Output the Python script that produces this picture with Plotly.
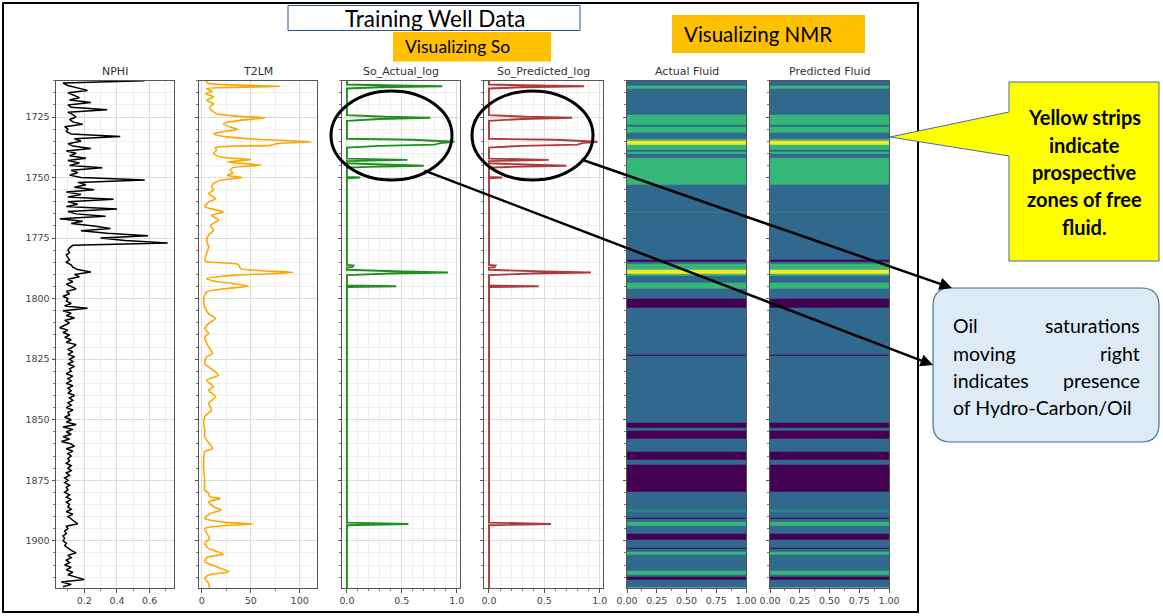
import plotly.graph_objects as go

W, H = 1163, 616

# ---------------- data ----------------
track_titles = ["NPHI", "T2LM", "So_Actual_log", "So_Predicted_log", "Actual Fluid", "Predicted Fluid"]

nphi_depth = list(range(1710, 1920))
nphi = [
    0.57, 0.07, 0.10, 0.16, 0.22, 0.10, 0.14, 0.17, 0.11, 0.24,
    0.10, 0.12, 0.34, 0.10, 0.13, 0.15, 0.11, 0.13, 0.19, 0.08,
    0.10, 0.09, 0.12, 0.42, 0.14, 0.18, 0.10, 0.13, 0.24, 0.09,
    0.15, 0.11, 0.21, 0.10, 0.17, 0.11, 0.31, 0.12, 0.16, 0.11,
    0.18, 0.57, 0.16, 0.21, 0.14, 0.26, 0.09, 0.18, 0.10, 0.38,
    0.10, 0.16, 0.09, 0.40, 0.10, 0.15, 0.33, 0.05, 0.19, 0.12,
    0.26, 0.36, 0.18, 0.34, 0.59, 0.30, 0.45, 0.71, 0.13, 0.11,
    0.10, 0.11, 0.09, 0.10, 0.11, 0.09, 0.12, 0.13, 0.16, 0.24,
    0.14, 0.17, 0.10, 0.13, 0.09, 0.12, 0.15, 0.09, 0.11, 0.07,
    0.10, 0.09, 0.12, 0.08, 0.22, 0.07, 0.12, 0.09, 0.14, 0.08,
    0.11, 0.08, 0.05, 0.10, 0.07, 0.11, 0.08, 0.12, 0.09, 0.15,
    0.13, 0.10, 0.13, 0.10, 0.14, 0.11, 0.13, 0.10, 0.14, 0.11,
    0.12, 0.09, 0.13, 0.10, 0.12, 0.09, 0.13, 0.10, 0.12, 0.10,
    0.14, 0.11, 0.13, 0.10, 0.12, 0.09, 0.13, 0.10, 0.11, 0.08,
    0.12, 0.09, 0.15, 0.07, 0.13, 0.09, 0.12, 0.07, 0.11, 0.06,
    0.12, 0.14, 0.09, 0.13, 0.10, 0.12, 0.10, 0.11, 0.09, 0.12,
    0.10, 0.12, 0.09, 0.11, 0.08, 0.10, 0.08, 0.11, 0.09, 0.10,
    0.08, 0.11, 0.09, 0.12, 0.09, 0.11, 0.10, 0.12, 0.09, 0.13,
    0.10, 0.12, 0.14, 0.16, 0.09, 0.10, 0.08, 0.09, 0.07, 0.08,
    0.07, 0.09, 0.08, 0.10, 0.12, 0.15, 0.10, 0.12, 0.09, 0.11,
    0.08, 0.12, 0.09, 0.13, 0.10, 0.15, 0.20, 0.06, 0.12, 0.07,
]

t2lm_depth = [
    1710.1, 1711.2, 1712.3, 1713.3, 1714.3, 1715.4, 1716.7, 1718.1, 1719.5, 1720.9,
    1722.2, 1723.6, 1724.7, 1725.3, 1726.4, 1727.7, 1729.1, 1730.1, 1731.2, 1732.1,
    1733.2, 1734.3, 1735.2, 1736.0, 1736.7, 1737.6, 1738.7, 1740.1, 1741.5, 1742.6,
    1743.6, 1744.9, 1745.9, 1747.0, 1748.1, 1749.1, 1750.0, 1751.1, 1752.5, 1753.9,
    1755.3, 1756.6, 1758.7, 1760.1, 1762.1, 1764.2, 1765.6, 1767.6, 1769.7, 1771.8,
    1773.8, 1775.9, 1778.6, 1781.4, 1784.1, 1784.8, 1785.8, 1787.6, 1789.2, 1790.3,
    1791.7, 1792.7, 1793.8, 1794.9, 1795.8, 1797.2, 1798.6, 1800.7, 1803.4, 1806.2,
    1808.2, 1810.3, 1812.3, 1814.4, 1815.8, 1818.5, 1819.9, 1822.7, 1824.0, 1826.8,
    1828.2, 1831.6, 1833.7, 1836.4, 1837.8, 1840.5, 1843.3, 1846.0, 1848.8, 1851.6,
    1854.3, 1857.1, 1858.4, 1861.9, 1863.2, 1866.7, 1870.8, 1874.9, 1879.1, 1880.4,
    1881.8, 1882.5, 1883.9, 1885.9, 1887.3, 1888.7, 1890.8, 1892.4, 1893.1, 1893.9,
    1894.9, 1896.9, 1899.0, 1901.1, 1903.1, 1905.5, 1906.9, 1908.6, 1911.0, 1912.8,
    1914.1, 1915.5, 1917.6, 1919.4,
]
t2lm = [
    4, 7, 80, 5, 10, 4, 12, 5, 12, 8,
    10, 15, 39, 65, 39, 22, 29, 37, 19, 12,
    26, 60, 112, 77, 70, 14, 15, 12, 19, 50,
    26, 60, 32, 29, 32, 26, 41, 19, 12, 10,
    12, 7, 14, 7, 3, 22, 10, 17, 9, 12,
    7, 5, 7, 5, 3, 5, 37, 40, 93, 35,
    5, 12, 32, 48, 26, 5, 3, 2, 3, 7,
    14, 7, 3, 7, 3, 5, 7, 11, 5, 3,
    7, 17, 5, 12, 7, 14, 7, 10, 3, 2,
    3, 3, 5, 11, 3, 2, 2, 3, 3, 7,
    8, 19, 7, 12, 20, 9, 3, 25, 52, 19,
    3, 5, 8, 3, 7, 22, 5, 3, 17, 28,
    7, 3, 7, 8,
]

so_actual_depth = [
    1710.1, 1711.6, 1712.0, 1712.3, 1712.7, 1713.2,
    1724.2, 1724.9, 1725.3, 1725.8, 1726.6,
    1734.0, 1734.4, 1735.2, 1735.8, 1736.4, 1736.9, 1737.6,
    1742.2, 1742.7, 1743.2,
    1744.1, 1744.7, 1745.1, 1745.6, 1745.9,
    1749.7, 1750.0, 1750.3,
    1786.1, 1786.3, 1787.0, 1787.2,
    1788.1, 1788.8, 1789.2, 1789.6, 1790.3,
    1794.6, 1794.9, 1795.2,
    1892.5, 1893.1, 1893.6,
    1919.5,
]
so_actual = [
    0.0, 0.0, 0.45, 0.87, 0.30, 0.0,
    0.0, 0.35, 0.76, 0.30, 0.0,
    0.0, 0.60, 0.98, 0.85, 0.80, 0.30, 0.0,
    0.0, 0.55, 0.0,
    0.0, 0.40, 0.70, 0.20, 0.0,
    0.0, 0.12, 0.0,
    0.0, 0.06, 0.05, 0.0,
    0.0, 0.50, 0.92, 0.40, 0.0,
    0.0, 0.45, 0.0,
    0.0, 0.56, 0.0,
    0.0,
]
so_pred_depth = list(so_actual_depth)
so_pred = [
    0.0, 0.0, 0.44, 0.86, 0.30, 0.0,
    0.0, 0.34, 0.75, 0.30, 0.0,
    0.0, 0.60, 0.98, 0.84, 0.80, 0.30, 0.0,
    0.0, 0.54, 0.0,
    0.0, 0.40, 0.70, 0.20, 0.0,
    0.0, 0.12, 0.0,
    0.0, 0.06, 0.05, 0.0,
    0.0, 0.50, 0.92, 0.40, 0.0,
    0.0, 0.45, 0.0,
    0.0, 0.56, 0.0,
    0.0,
]

# fluid class bands (viridis scale 0..3): edges and class per band
fluid_edges = [
    1710.0, 1711.9, 1713.3, 1724.0, 1728.2, 1728.8, 1731.4, 1733.9, 1734.8, 1736.4,
    1738.3, 1739.4, 1740.3, 1741.9, 1752.9, 1763.9, 1764.7, 1784.1, 1784.6, 1785.5,
    1787.9, 1789.5, 1790.7, 1793.4, 1796.1, 1800.2, 1803.7, 1823.1, 1823.5, 1851.3,
    1853.2, 1854.6, 1857.7, 1863.2, 1866.7, 1868.5, 1879.8, 1887.3, 1888.0, 1890.3,
    1890.9, 1892.1, 1893.8, 1896.9, 1899.7, 1902.9, 1903.4, 1904.5, 1905.9, 1912.5,
    1913.9, 1914.8, 1916.2, 1919.5,
]
fluid_actual = [
    1, 2, 1, 2, 1, 2, 1, 2, 3, 2,
    1, 2, 1, 2, 1, 1.5, 1, 0, 1, 2,
    3, 2, 1, 2, 1, 0, 1, 0, 1, 0,
    1, 0, 1, 0, 1, 0, 1, 1.5, 1, 0,
    1, 2, 1, 0, 1, 0, 1, 2, 1, 2,
    1, 0, 1,
]
fluid_pred = list(fluid_actual)

# ---------------- layout helpers ----------------
def X(px):
    return px / W


def Y(py):
    return 1 - py / H


panel_px = [(56, 174), (199, 317), (342, 460), (484, 603), (627, 746), (770, 889)]
y_top, y_bot = 80.7, 588
x_ranges = [[0.027, 0.749], [-2.8, 117.7], [-0.045, 1.03], [-0.045, 1.03], [0, 1], [0, 1]]
x_dticks = [0.2, 50, 0.5, 0.5, 0.25, 0.25]
x_minor = [0.1, 25, 0.1, 0.1, 0.125, 0.125]
x_fmt = [".1f", "d", ".1f", ".1f", ".2f", ".2f"]

tick_font = dict(family="DejaVu Sans", size=9.5, color="#444")
fig = go.Figure()

# traces
fig.add_trace(go.Scatter(x=nphi, y=nphi_depth, mode="lines",
                         line=dict(color="black", width=1.5), xaxis="x", yaxis="y"))
fig.add_trace(go.Scatter(x=t2lm, y=t2lm_depth, mode="lines",
                         line=dict(color="#FFA500", width=1.6, shape="spline", smoothing=0.6),
                         xaxis="x2", yaxis="y2"))
fig.add_trace(go.Scatter(x=so_actual, y=so_actual_depth, mode="lines",
                         line=dict(color="#1f8f1f", width=1.9), xaxis="x3", yaxis="y3"))
fig.add_trace(go.Scatter(x=so_pred, y=so_pred_depth, mode="lines",
                         line=dict(color="#b03a3a", width=1.9), xaxis="x4", yaxis="y4"))
for k, cls in ((5, fluid_actual), (6, fluid_pred)):
    fig.add_trace(go.Heatmap(x=[0, 1], y=fluid_edges, z=[[c] for c in cls],
                             colorscale="Viridis", zmin=0, zmax=3, showscale=False,
                             xaxis=f"x{k}", yaxis=f"y{k}", hoverinfo="skip"))

layout = dict(width=W, height=H, autosize=False,
              margin=dict(l=0, r=0, t=0, b=0, pad=0, autoexpand=False),
              paper_bgcolor="white", plot_bgcolor="white", showlegend=False)

for i in range(6):
    k = "" if i == 0 else str(i + 1)
    x0, x1 = panel_px[i]
    layout["xaxis" + k] = dict(
        domain=[X(x0), X(x1)], range=x_ranges[i], anchor="y" + k, automargin=False,
        dtick=x_dticks[i], tick0=0, tickformat=x_fmt[i],
        showline=True, mirror=True, linecolor="#555", linewidth=1,
        ticks="outside", ticklen=3.5, tickcolor="#555", tickfont=tick_font,
        showgrid=True, gridcolor="#dcdcdc", gridwidth=1, zeroline=False,
        minor=dict(dtick=x_minor[i], ticks="outside", ticklen=2, tickcolor="#777",
                   showgrid=True, gridcolor="#efefef"),
        fixedrange=True,
    )
    layout["yaxis" + k] = dict(
        domain=[Y(y_bot), Y(y_top)], range=[1919.5, 1710], anchor="x" + k, automargin=False,
        dtick=25, tick0=0, showticklabels=(i == 0),
        showline=True, mirror=True, linecolor="#555", linewidth=1,
        ticks="outside", ticklen=3.5, tickcolor="#555", tickfont=tick_font,
        showgrid=True, gridcolor="#dcdcdc", gridwidth=1, zeroline=False,
        minor=dict(dtick=5, ticks="outside", ticklen=2, tickcolor="#777",
                   showgrid=True, gridcolor="#efefef"),
        fixedrange=True,
    )

annotations = []
shapes = []


def label(text, x, y, size, xanchor="center", bold=False, family="Lato", color="black"):
    annotations.append(dict(text=f"<b>{text}</b>" if bold else text, x=X(x), y=Y(y),
                            xref="paper", yref="paper", showarrow=False,
                            xanchor=xanchor, yanchor="middle", borderpad=0,
                            font=dict(family=family, size=size, color=color)))


# track titles
for i, t in enumerate(track_titles):
    x0, x1 = panel_px[i]
    label(t, (x0 + x1) / 2, 71.5, 11, family="DejaVu Sans", color="#333")

# outer frame
shapes.append(dict(type="rect", xref="paper", yref="paper", x0=X(3), x1=X(918), y0=Y(612), y1=Y(3),
                   line=dict(color="black", width=2), fillcolor="rgba(0,0,0,0)", layer="above"))

# title boxes
shapes.append(dict(type="rect", xref="paper", yref="paper", x0=X(288), x1=X(580), y0=Y(30.5), y1=Y(5.5),
                   line=dict(color="#2F5597", width=1), fillcolor="white"))
label("Training Well Data", 435, 18.5, 22.5)
shapes.append(dict(type="rect", xref="paper", yref="paper", x0=X(393), x1=X(551), y0=Y(61.5), y1=Y(32),
                   line=dict(width=0), fillcolor="#FFC000"))
label("Visualizing So", 404, 46.5, 17.5, xanchor="left")
shapes.append(dict(type="rect", xref="paper", yref="paper", x0=X(672), x1=X(865), y0=Y(53), y1=Y(15),
                   line=dict(width=0), fillcolor="#FFC000"))
label("Visualizing NMR", 683, 34, 20.5, xanchor="left")

# ellipses on the So tracks
for ex0, ex1 in ((331, 452), (472, 593)):
    shapes.append(dict(type="circle", xref="paper", yref="paper", x0=X(ex0), x1=X(ex1), y0=Y(180), y1=Y(91),
                       line=dict(color="black", width=3), fillcolor="rgba(0,0,0,0)", layer="above"))

# yellow callout with wedge
pts = [(1009, 82), (1159, 82), (1159, 261), (1009, 261), (1009, 156), (890, 137), (1009, 112)]
path = "M " + " L ".join(f"{X(a):.5f},{Y(b):.5f}" for a, b in pts) + " Z"
shapes.append(dict(type="path", xref="paper", yref="paper", path=path,
                   fillcolor="#FFFF00", line=dict(color="#41719C", width=1), layer="above"))
for txt, yy in (("Yellow strips", 117), ("indicate", 145), ("prospective", 172),
                ("zones of free", 199), ("fluid.", 227)):
    label(txt, 1084, yy, 20, bold=True)

# rounded blue box
x0, x1, y0, y1, r = 933, 1159, 288, 442, 18
rp = [f"M {X(x0 + r)},{Y(y0)}", f"L {X(x1 - r)},{Y(y0)}", f"Q {X(x1)},{Y(y0)} {X(x1)},{Y(y0 + r)}",
      f"L {X(x1)},{Y(y1 - r)}", f"Q {X(x1)},{Y(y1)} {X(x1 - r)},{Y(y1)}",
      f"L {X(x0 + r)},{Y(y1)}", f"Q {X(x0)},{Y(y1)} {X(x0)},{Y(y1 - r)}",
      f"L {X(x0)},{Y(y0 + r)}", f"Q {X(x0)},{Y(y0)} {X(x0 + r)},{Y(y0)}", "Z"]
shapes.append(dict(type="path", xref="paper", yref="paper", path=" ".join(rp),
                   fillcolor="#DEEBF7", line=dict(color="#41719C", width=1.2), layer="above"))
for left, right, yy in (("Oil", "saturations", 325), ("moving", "right", 353), ("indicates", "presence", 380)):
    label(left, 952, yy, 19.5, xanchor="left")
    label(right, 1141, yy, 19.5, xanchor="right")
label("of Hydro-Carbon/Oil", 952, 407, 19.5, xanchor="left")

# arrows (tail offset in pixels relative to head)
for (tx, ty), (hx, hy) in (((423, 170), (933, 365)), ((580, 159), (952, 288))):
    annotations.append(dict(text="", x=X(hx), y=Y(hy), ax=tx - hx, ay=ty - hy, xref="paper", yref="paper",
                            axref="pixel", ayref="pixel", showarrow=True, arrowhead=2, arrowsize=1,
                            arrowwidth=2.5, arrowcolor="black", standoff=0, startstandoff=0))

layout["shapes"] = shapes
layout["annotations"] = annotations
fig.update_layout(**layout)
fig.write_html("out.html", config={"displayModeBar": False},
               post_script="document.body.style.margin='0';document.body.style.padding='0';"
                           "document.body.style.overflow='hidden';")
